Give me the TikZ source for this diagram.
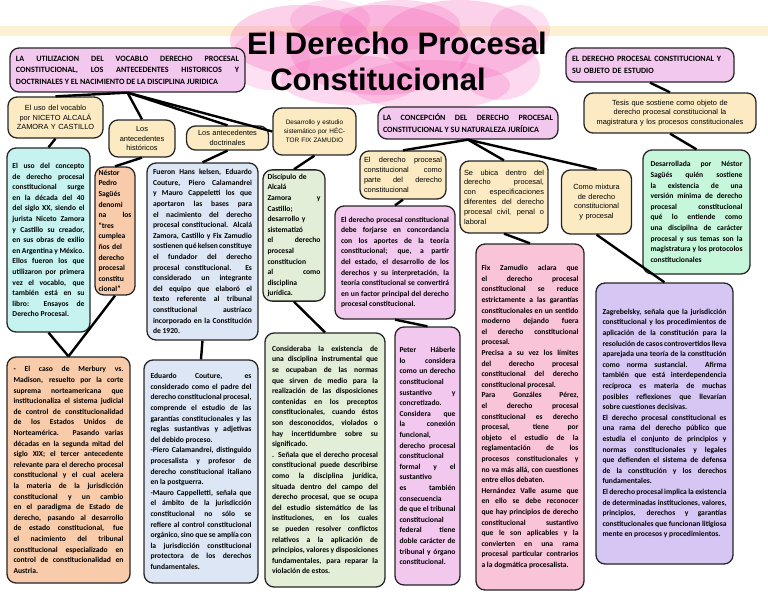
\documentclass[tikz,border=0pt]{standalone}
\usepackage{fontspec}
\setmainfont{Carlito}
\newfontfamily\ar{Liberation Sans}
\definecolor{cpink}{HTML}{F3C8EF}
\definecolor{cbeige}{HTML}{FCEBC2}
\definecolor{ccyan}{HTML}{C6F3EF}
\definecolor{corange}{HTML}{F8CBAA}
\definecolor{cblue}{HTML}{DCE6F4}
\definecolor{cgreen}{HTML}{E3EED9}
\definecolor{crose}{HTML}{F9C3D8}
\definecolor{cmint}{HTML}{C6F7DA}
\definecolor{cpurple}{HTML}{D6C6F4}
\newcommand{\nohy}{\hyphenpenalty=10000\exhyphenpenalty=10000\tolerance=9999\emergencystretch=20pt}
\begin{document}
\begin{tikzpicture}[x=1pt,y=-1pt,
  bx/.style={draw=black!85,line width=1.3pt,rounded corners=9pt,inner sep=4pt,align=justify,
    font=\fontsize{7.6}{10.6}\selectfont\bfseries\nohy},
  hd/.style={bx,fill=cpink,font=\fontsize{8.1}{11.5}\selectfont\bfseries\nohy},
  bg/.style={bx,fill=cbeige,align=center,font=\ar\fontsize{7.4}{9.8}\selectfont\nohy},
  ln/.style={line width=2.4pt,black}]
\useasboundingbox (0,0) rectangle (768,594);
\fill[cbeige!70] (0,26) rectangle (768,36);
\foreach \x/\y/\a/\b/\o in {300/40/70/35/0.3,380/50/90/45/0.3,460/40/80/40/0.3,350/80/70/25/0.25,430/85/80/25/0.25,500/70/40/30/0.25,270/60/40/30/0.2,400/25/60/25/0.25,330/20/40/20/0.2,520/30/30/25/0.2}
  \fill[magenta!60,opacity=\o] (\x,\y) ellipse [x radius=\a,y radius=\b];
\node[font=\ar\bfseries\fontsize{31}{33}\selectfont] (t1) at (397,43) {El Derecho Procesal};
\node[font=\ar\bfseries\fontsize{31}{33}\selectfont] (t2) at (378,79) {Constitucional};

\node[hd,minimum width=235,minimum height=44,text width=223] (hdA) at (127.5,70) {LA UTILIZACION DEL VOCABLO DERECHO PROCESAL CONSTITUCIONAL, LOS ANTECEDENTES HISTORICOS Y DOCTRINALES Y EL NACIMIENTO DE LA DISCIPLINA JURIDICA};
\node[bg,minimum width=95,minimum height=41,text width=87] (usoA) at (55.5,117.5) {El uso del vocablo por NICETO ALCALÁ ZAMORA Y CASTILLO};
\node[bg,minimum width=64,minimum height=37,text width=58] (antH) at (142,138.5) {Los antecedentes históricos};
\node[bg,minimum width=79,minimum height=24,text width=74] (antD) at (227.5,138) {Los antecedentes doctrinales};
\node[bg,minimum width=81,minimum height=47,text width=75,font=\ar\fontsize{6.4}{9}\selectfont] (fix) at (314.5,131.5) {Desarrollo y estudio sistemático por HÉCTOR FIX ZAMUDIO};

\node[bx,fill=ccyan,minimum width=83,minimum height=184,text width=72] (cyan) at (48.5,240) {El uso del concepto de derecho procesal constitucional surge en la década del 40 del siglo XX, siendo el jurista Niceto Zamora y Castillo su creador, en sus obras de exilio en Argentina y México.\\Ellos fueron los que utilizaron por primera vez el vocablo, que también está en su libro: Ensayos de Derecho Procesal.};
\node[bx,fill=corange,minimum width=40,minimum height=128,text width=33,align=left,inner sep=3pt] (sag) at (115,231) {Néstor\\Pedro\\Sagüés\\denomi\\na\hfill los\\“tres\\cumplea\\ños del\\derecho\\procesal\\constitu\\cional”};
\node[bx,fill=cblue,minimum width=111,minimum height=177,text width=99] (blue1) at (202.5,251.5) {Fueron Hans kelsen, Eduardo Couture, Piero Calamandrei y Mauro Cappeletti los que aportaron las bases para el nacimiento del derecho procesal constitucional. Alcalá Zamora, Castillo y Fix Zamudio sostienen qué kelsen constituye el fundador del derecho procesal constitucional. Es considerado un integrante del equipo que elaboró el texto referente al tribunal constitucional austríaco incorporado en la Constitución de 1920.};
\node[bx,fill=cgreen,minimum width=62,minimum height=125,text width=53,align=left] (disc) at (294,235.5) {Discípulo de Alcalá\\Zamora\hfill y\\Castillo;\\desarrollo y sistematizó\\el\hfill derecho\\procesal\\constitucion\\al\hfill como\\disciplina\\jurídica.};
\node[bx,fill=corange,minimum width=123,minimum height=226,text width=110] (merb) at (68.5,470) {- El caso de Merbury vs. Madison, resuelto por la corte suprema norteamericana que institucionaliza el sistema judicial de control de constitucionalidad de los Estados Unidos de Norteamérica. Pasando varias décadas en la segunda mitad del siglo XIX; el tercer antecedente relevante para el derecho procesal constitucional y el cual acelera la materia de la jurisdicción constitucional y un cambio en el paradigma de Estado de derecho, pasando al desarrollo de estado constitucional, fue el nacimiento del tribunal constitucional especializado en control de constitucionalidad en Austria.};
\node[bx,fill=cblue,minimum width=114,minimum height=223,text width=101] (blue2) at (201,471.5) {Eduardo Couture, es considerado como el padre del derecho constitucional procesal, comprende el estudio de las garantías constitucionales y las reglas sustantivas y adjetivas del debido proceso.\\-Piero Calamandrei, distinguido procesalista y profesor de derecho constitucional italiano en la postguerra.\\-Mauro Cappelletti, señala que el ámbito de la jurisdicción constitucional no sólo se refiere al control constitucional orgánico, sino que se amplía con la jurisdicción constitucional protectora de los derechos fundamentales.};
\node[bx,fill=cgreen,minimum width=120,minimum height=254,text width=106] (cons) at (325,460) {Consideraba la existencia de una disciplina instrumental que se ocupaban de las normas que sirven de medio para la realización de las disposiciones contenidas en los preceptos constitucionales, cuando éstos son desconocidos, violados o hay incertidumbre sobre su significado.\\. Señala que el derecho procesal constitucional puede describirse como la disciplina jurídica, situada dentro del campo del derecho procesal, que se ocupa del estudio sistemático de las instituciones, en los cuales se pueden resolver conflictos relativos a la aplicación de principios, valores y disposiciones fundamentales, para reparar la violación de estos.};

\node[hd,minimum width=180,minimum height=32,text width=170] (hdB) at (468,123) {LA CONCEPCIÓN DEL DERECHO PROCESAL CONSTITUCIONAL Y SU NATURALEZA JURÍDICA};
\node[bg,minimum width=86,minimum height=48,text width=78,align=justify] (parte) at (403,175) {El derecho procesal constitucional como parte del derecho constitucional};
\node[bx,fill=cpink,minimum width=120,minimum height=113,text width=108] (forj) at (395,262.5) {El derecho procesal constitucional debe forjarse en concordancia con los aportes de la teoría constitucional; que, a partir del estado, el desarrollo de los derechos y su interpretación, la teoría constitucional se convertirá en un factor principal del derecho procesal constitucional.};
\node[bx,fill=cpink,minimum width=65,minimum height=258,text width=56] (peter) at (427.5,456) {Peter Háberle lo considera como un derecho constitucional sustantivo y concretizado. Considera que la conexión funcional, derecho procesal constitucional formal y el sustantivo es también consecuencia de que el tribunal constitucional federal tiene doble carácter de tribunal y órgano constitucional.};
\node[bg,minimum width=88,minimum height=72,text width=80,align=justify] (ubica) at (504,197) {Se ubica dentro del derecho procesal, con especificaciones diferentes del derecho procesal civil, penal o laboral};
\node[bx,fill=crose,minimum width=108,minimum height=346,text width=97] (fixz) at (530,417) {Fix Zamudio aclara que el derecho procesal constitucional se reduce estrictamente a las garantías constitucionales en un sentido moderno dejando fuera el derecho constitucional procesal.\\Precisa a su vez los límites del derecho procesal constitucional del derecho constitucional procesal.\\Para Gonzáles Pérez, el derecho procesal constitucional es derecho procesal, tiene por objeto el estudio de la reglamentación de los procesos constitucionales y no va más allá, con cuestiones entre ellos debaten.\\Hernández Valle asume que en ello se debe reconocer que hay principios de derecho constitucional sustantivo que le son aplicables y la convierten en una rama procesal particular contrarios a la dogmática procesalista.};
\node[bg,minimum width=67,minimum height=64,text width=62] (mixt) at (596.5,202) {Como mixtura de derecho constitucional y procesal};

\node[hd,minimum width=168,minimum height=34,text width=156,align=left] (hdC) at (650,65) {EL DERECHO PROCESAL CONSTITUCIONAL Y SU OBJETO DE ESTUDIO};
\node[bg,minimum width=170,minimum height=40,text width=164] (tesis) at (670,113) {Tesis que sostiene como objeto de derecho procesal constitucional la magistratura y los procesos constitucionales};
\node[bx,fill=cmint,minimum width=107,minimum height=124,text width=92] (desa) at (696.5,212) {Desarrollada por Néstor Sagüés quién sostiene la existencia de una versión mínima de derecho procesal constitucional qué lo entiende como una discipilna de carácter procesal y sus temas son la magistratura y los protocolos constitucionales};
\node[bx,fill=cpurple,minimum width=137,minimum height=281,text width=124] (zag) at (664.5,423.5) {Zagrebelsky, señala que la jurisdicción constitucional y los procedimientos de aplicación de la constitución para la resolución de casos controvertidos lleva aparejada una teoría de la constitución como norma sustancial. Afirma también que está interdependencia recíproca es materia de muchas posibles reflexiones que llevarían sobre cuestiones decisivas.\\El derecho procesal constitucional es una rama del derecho público que estudia el conjunto de principios y normas constitucionales y legales que defienden el sistema de defensa de la constitución y los derechos fundamentales.\\El derecho procesal implica la existencia de determinadas instituciones, valores, principios, derechos y garantías constitucionales que funcionan litigiosa mente en procesos y procedimientos.};

\draw[ln] (hdA.south) -- (usoA.north);
\draw[ln] (hdA.south) -- (antH.north);
\draw[ln] (hdA.south) -- (antD.north);
\draw[ln] (hdA.south) -- (fix.west);
\draw[ln] (usoA.south) -- (cyan.north);
\draw[ln] (antH.south) -- (sag.north);
\draw[ln] (antD.south) -- (blue1.north);
\draw[ln] (fix.south) -- (disc.north);
\draw[ln] (cyan.south) -- (merb.north);
\draw[ln] (sag.south) -- (merb.north);
\draw[ln] (blue1.south) -- (blue2.north);
\draw[ln] (disc.south) -- (cons.north);
\draw[ln] (hdB.south) -- (parte.north);
\draw[ln] (hdB.south) -- (ubica.north);
\draw[ln] (hdB.south) -- (mixt.north);
\draw[ln] (parte.south) -- (forj.north);
\draw[ln] (forj.south) -- (peter.north);
\draw[ln] (ubica.south) -- (fixz.north);
\draw[ln] (mixt.south) -- (zag.north);
\draw[ln] (hdC.south) -- (tesis.north);
\draw[ln] (tesis.south) -- (desa.north);
\end{tikzpicture}
\end{document}
